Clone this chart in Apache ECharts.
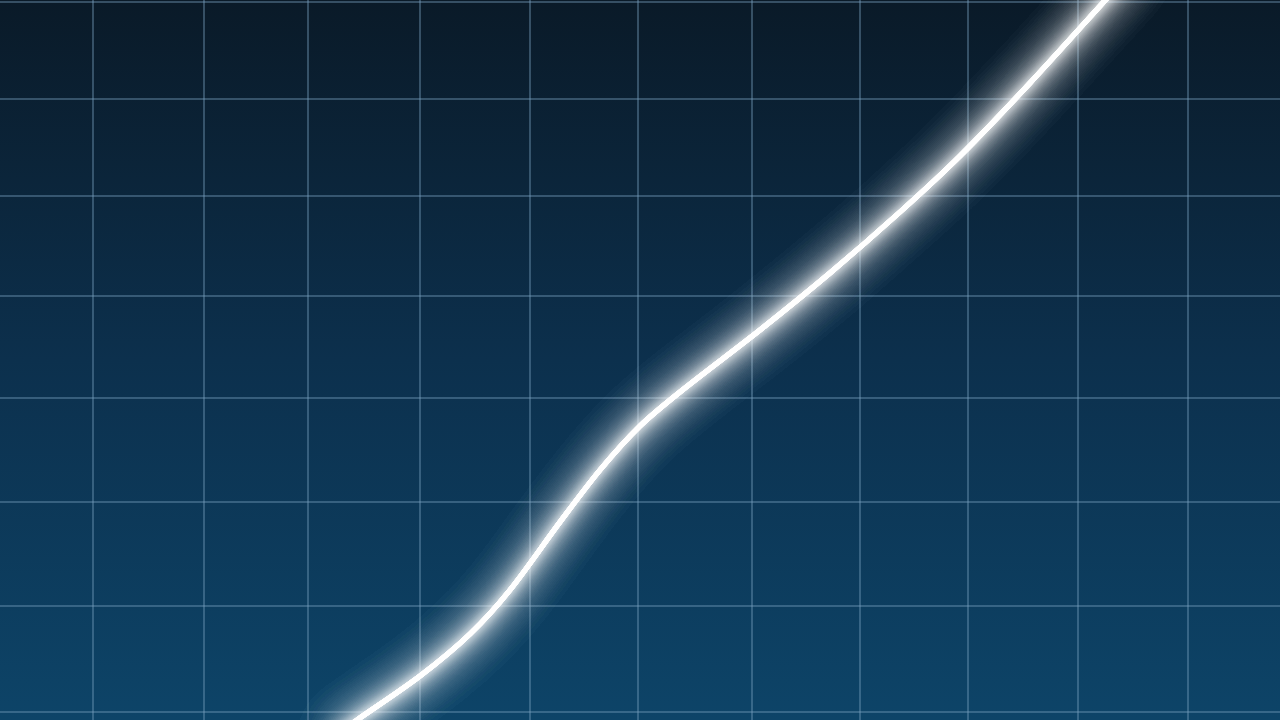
<!DOCTYPE html>
<html>
<head>
<meta charset="utf-8">
<script src="https://cdn.jsdelivr.net/npm/echarts@6/dist/echarts.min.js"></script>
<style>
html,body{margin:0;padding:0;width:1280px;height:720px;overflow:hidden;background:#0c2436;}
#chart{width:1280px;height:720px;}
</style>
</head>
<body>
<div id="chart"></div>
<script>
// Grid line positions (axis units)
const xGridValues = [93, 204, 308, 420, 530, 638, 752, 860, 968, 1078, 1188];
const yGridValues = [8, 114, 218, 322, 424, 524, 621, 718];

// Curve
const curveX = [330, 357, 420, 470, 510, 560, 600, 640, 680, 760, 830, 900, 960, 1030, 1110, 1140];
const curveY = [-19, 0, 44, 86, 130, 198, 250, 294, 328, 390, 447, 508, 564, 637, 725, 758];

const curveData = curveX.map((x, i) => [x, curveY[i]]);

// glow passes (blur radius for each stacked copy)
const glowBlurs = [40, 40, 40, 40, 18, 18, 8];

const series = glowBlurs.map(b => ({
  type: 'line',
  data: curveData,
  smooth: 0.3,
  showSymbol: false,
  clip: true,
  silent: true,
  lineStyle: {color: '#ffffff', width: 5, shadowColor: '#ffffff', shadowBlur: b}
}));

const chart = echarts.init(document.getElementById('chart'), null, {renderer: 'canvas'});
chart.setOption({
  backgroundColor: {
    type: 'linear', x: 0, y: 0, x2: 0, y2: 1,
    colorStops: [
      {offset: 0, color: '#0a1a28'},
      {offset: 0.5, color: '#0c304d'},
      {offset: 1, color: '#0d4468'}
    ]
  },
  animation: false,
  grid: {left: 0, right: 0, top: 0, bottom: 0, containLabel: false},
  xAxis: {
    type: 'value', min: 0, max: 1280,
    axisLine: {show: false}, axisLabel: {show: false},
    axisTick: {show: false, customValues: xGridValues},
    splitLine: {show: true, lineStyle: {color: 'rgba(120,160,190,0.4)', width: 2}}
  },
  yAxis: {
    type: 'value', min: 0, max: 720,
    axisLine: {show: false}, axisLabel: {show: false},
    axisTick: {show: false, customValues: yGridValues},
    splitLine: {show: true, lineStyle: {color: 'rgba(120,160,190,0.4)', width: 2}}
  },
  series: series
});
</script>
</body>
</html>
